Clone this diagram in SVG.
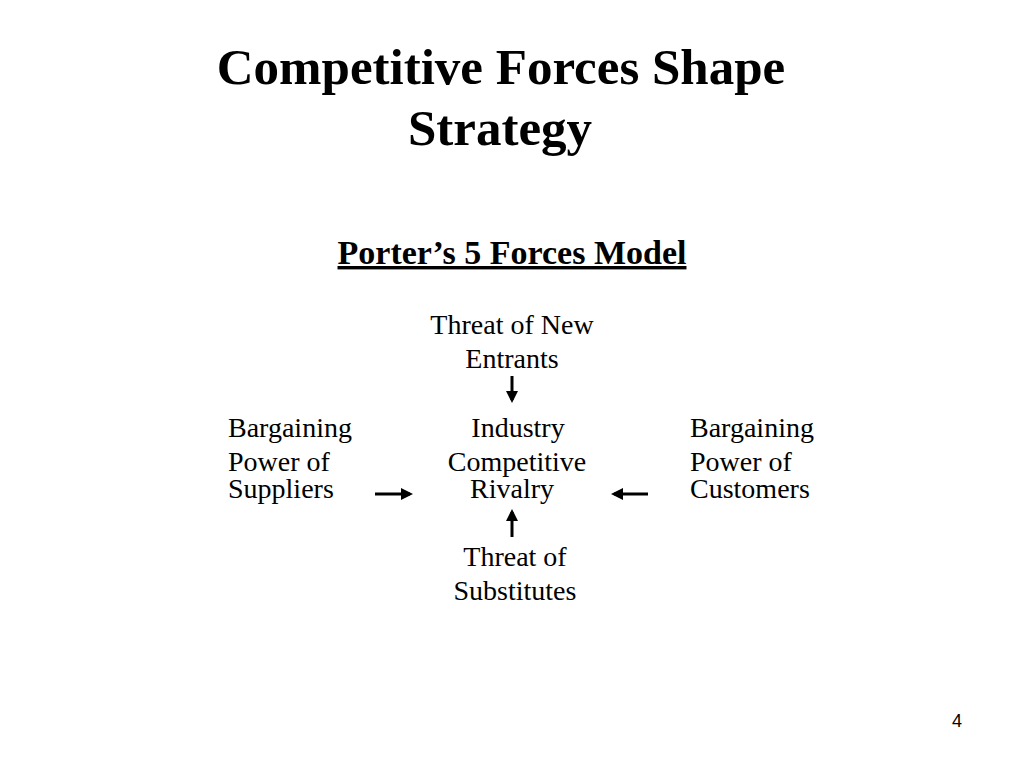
<svg xmlns="http://www.w3.org/2000/svg" width="1024" height="768" viewBox="0 0 1024 768">
<style>
.t{font-family:"Liberation Serif",serif;font-size:28px;fill:#000}
.h{font-family:"Liberation Serif",serif;font-weight:bold;fill:#000}
.c{stroke:#000;stroke-width:3;fill:none}
</style>
<defs><marker id="a" markerWidth="4" markerHeight="4" refX="3" refY="2" orient="auto" markerUnits="strokeWidth"><path d="M0,0L4,2L0,4z" fill="#000"/></marker></defs>
<rect width="1024" height="768" fill="#fff"/>
<text class="h" font-size="51" x="501" y="84" text-anchor="middle">Competitive Forces Shape</text>
<text class="h" font-size="51" x="500" y="145" text-anchor="middle">Strategy</text>
<text class="h" font-size="34" x="512" y="264" text-anchor="middle" text-decoration="underline">Porter’s 5 Forces Model</text>
<g id="entrants"><text class="t" x="512" y="334" text-anchor="middle">Threat of New</text><text class="t" x="512" y="368" text-anchor="middle">Entrants</text></g>
<g id="suppliers"><text class="t" x="228" y="437">Bargaining</text><text class="t" x="228" y="471">Power of</text><text class="t" x="228" y="498">Suppliers</text></g>
<g id="rivalry"><text class="t" x="518" y="437" text-anchor="middle">Industry</text><text class="t" x="517" y="471" text-anchor="middle">Competitive</text><text class="t" x="512" y="498" text-anchor="middle">Rivalry</text></g>
<g id="customers"><text class="t" x="690" y="437">Bargaining</text><text class="t" x="690" y="471">Power of</text><text class="t" x="690" y="498">Customers</text></g>
<g id="substitutes"><text class="t" x="515" y="566" text-anchor="middle">Threat of</text><text class="t" x="515" y="600" text-anchor="middle">Substitutes</text></g>
<g id="connectors">
<line class="c" x1="512" y1="376" x2="512" y2="400" marker-end="url(#a)"/>
<line class="c" x1="375" y1="494" x2="410" y2="494" marker-end="url(#a)"/>
<line class="c" x1="648" y1="494" x2="614" y2="494" marker-end="url(#a)"/>
<line class="c" x1="512" y1="537" x2="512" y2="512" marker-end="url(#a)"/>
</g>
<text x="957" y="727" font-family="Liberation Sans,sans-serif" font-size="18" fill="#000" text-anchor="middle">4</text>
</svg>
